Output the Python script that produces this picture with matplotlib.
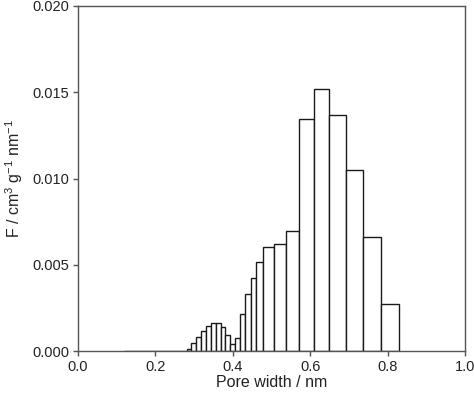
import numpy as np
import matplotlib.pyplot as plt

plt.rcParams['font.family'] = ['Liberation Sans', 'DejaVu Sans']
plt.rcParams['mathtext.fontset'] = 'custom'
plt.rcParams['mathtext.rm'] = 'Liberation Sans'

# --- Data: bin edges (nm) and distribution values ---
bin_edges = [0.12, 0.16, 0.20, 0.24, 0.27, 0.2808, 0.292, 0.3049, 0.3178, 0.330,
             0.3424, 0.3553, 0.3682, 0.3811, 0.3935, 0.4057, 0.4186, 0.4315,
             0.4463, 0.4592, 0.4788, 0.5072, 0.5375, 0.5718, 0.6098, 0.6494,
             0.6933, 0.7372, 0.7842, 0.8302]
pore_values = [0.00001, 0.00001, 0.00001, 0.00001, 0.00003, 0.000145, 0.00049,
               0.00084, 0.00119, 0.00147, 0.00165, 0.00161, 0.00137, 0.00093,
               0.00041, 0.00077, 0.00214, 0.00329, 0.00421, 0.00518, 0.00601,
               0.00622, 0.00697, 0.01345, 0.0152, 0.0137, 0.01049, 0.00661,
               0.00274]

edges = np.array(bin_edges)
lefts = edges[:-1]
widths = np.diff(edges)

fig = plt.figure(figsize=(4.74, 3.98), dpi=100)
ax = fig.add_axes([0.1646, 0.118, 0.8164, 0.867])

ax.bar(lefts, pore_values, width=widths, align='edge', facecolor='white',
       edgecolor='#1a1a1a', linewidth=1.0)

ax.set_xlim(0, 1.0)
ax.set_ylim(0, 0.020)
ax.set_xticks(np.arange(0, 1.01, 0.2))
ax.set_yticks(np.arange(0, 0.0201, 0.005))
ax.set_xticklabels([f"{t:.1f}" for t in np.arange(0, 1.01, 0.2)])
ax.set_yticklabels([f"{t:.3f}" for t in np.arange(0, 0.0201, 0.005)])

for s in ax.spines.values():
    s.set_color('#555555')
    s.set_linewidth(1.0)
ax.tick_params(direction='out', length=3.5, width=1.0, color='#555555',
               labelsize=10.5, labelcolor='#222222', pad=3)

ax.set_xlabel("Pore width / nm", fontsize=11.5, color='#222222', labelpad=1)
ax.set_ylabel(r"F / cm$^3$ g$^{-1}$ nm$^{-1}$", fontsize=11.5, color='#222222',
              labelpad=5)

fig.savefig("out.png", dpi=100)
